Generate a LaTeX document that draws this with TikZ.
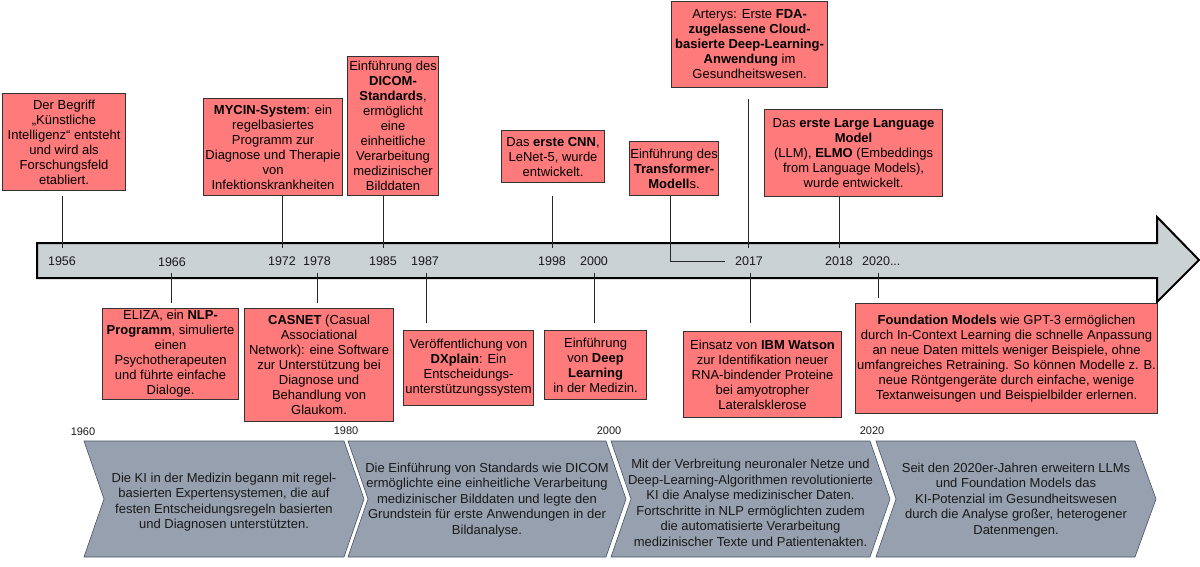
\documentclass[tikz,border=0pt]{standalone}
\usepackage{fontspec}
\setmainfont{Liberation Sans}
\definecolor{boxred}{RGB}{255,122,122}
\definecolor{bargray}{RGB}{203,210,212}
\definecolor{chev}{RGB}{151,160,175}
\definecolor{chevline}{RGB}{70,85,105}
\tikzset{
 evbox/.style={draw=black!80, line width=1.1pt, fill=boxred, inner sep=0pt, align=center, anchor=north west, font=\fontsize{13}{15}\selectfont, text=black},
 yr/.style={font=\fontsize{12.5}{14}\selectfont, inner sep=0pt, text=black!90},
 era/.style={font=\fontsize{11}{13}\selectfont, inner sep=0pt, text=black!90},
 tick/.style={line width=0.9pt, draw=black!85},
 chevbox/.style={fill=chev, draw=chevline, line width=0.6pt},
 chevtext/.style={align=center, font=\fontsize{13}{15.5}\selectfont, inner sep=0pt, text=black!90}
}
\begin{document}
\begin{tikzpicture}[x=1pt,y=-1pt]
\useasboundingbox (0,0) rectangle (1200,567);
% main arrow
\draw[fill=bargray, line width=2pt, line join=miter] (37,243) -- (1157,243) -- (1157,217) -- (1199,260) -- (1157,302) -- (1157,278) -- (37,278) -- cycle;
% year labels
\node[yr] (y1956) at (62,261) {1956};
\node[yr] (y1966) at (172,262) {1966};
\node[yr] (y1972) at (282,261) {1972};
\node[yr] (y1978) at (317,261) {1978};
\node[yr] (y1985) at (383,261) {1985};
\node[yr] (y1987) at (425,261) {1987};
\node[yr] (y1998) at (552,261) {1998};
\node[yr] (y2000) at (594,261) {2000};
\node[yr] (y2017) at (749,261) {2017};
\node[yr] (y2018) at (839,261) {2018};
\node[yr, anchor=west] (y2020) at (862,261) {2020...};
% tick end coordinates
\coordinate (k1956) at (62,248);
\coordinate (k1972) at (282,248);
\coordinate (k1985) at (383,248);
\coordinate (k1998) at (552,248);
\coordinate (kTr) at (670,261);
\coordinate (kTrEnd) at (725,261);
\coordinate (k2017t) at (748,248);
\coordinate (k2018) at (839,248);
\coordinate (k1966) at (171,273);
\coordinate (k1978) at (317,273);
\coordinate (k1987) at (426,273);
\coordinate (k2000) at (594,273);
\coordinate (k2017) at (750,273);
\coordinate (k2020) at (878,273);
% top boxes
\node[evbox, minimum width=123pt, minimum height=97pt] (b1956) at (2,93) {Der Begriff\\„Künstliche\\Intelligenz“ entsteht\\und wird als\\Forschungsfeld\\etabliert.};
\node[evbox, minimum width=139pt, minimum height=97pt] (b1972) at (203,98) {\textbf{MYCIN-System}: ein\\regelbasiertes\\Programm zur\\Diagnose und Therapie\\von\\Infektionskrankheiten};
\node[evbox, minimum width=91pt, minimum height=139pt] (b1985) at (347,56) {Einführung des\\\textbf{DICOM-}\\\textbf{Standards},\\ermöglicht\\eine\\einheitliche\\Verarbeitung\\medizinischer\\Bilddaten};
\node[evbox, minimum width=103pt, minimum height=52pt] (b1998) at (501,130) {Das \textbf{erste CNN},\\LeNet-5, wurde\\entwickelt.};
\node[evbox, minimum width=89pt, minimum height=54pt] (bTr) at (629,141) {Einführung des\\\textbf{Transformer-}\\\textbf{Modell}s.};
\node[evbox, minimum width=156pt, minimum height=86pt] (bArt) at (671,1) {Arterys: Erste \textbf{FDA-}\\\textbf{zugelassene Cloud-}\\\textbf{basierte Deep-Learning-}\\\textbf{Anwendung} im\\Gesundheitswesen.};
\node[evbox, minimum width=178pt, minimum height=87pt] (b2018) at (764,109) {Das \textbf{erste Large Language}\\\textbf{Model}\\(LLM), \textbf{ELMO} (Embeddings\\from Language Models),\\wurde entwickelt.};
% bottom boxes
\node[evbox, minimum width=136pt, minimum height=91pt] (b1966) at (102,308) {ELIZA, ein \textbf{NLP-}\\\textbf{Programm}, simulierte\\einen\\Psychotherapeuten\\und führte einfache\\Dialoge.};
\node[evbox, minimum width=149pt, minimum height=113pt] (b1978) at (244,308) {\textbf{CASNET} (Casual\\Associational\\Network): eine Software\\zur Unterstützung bei\\Diagnose und\\Behandlung von\\Glaukom.};
\node[evbox, minimum width=130pt, minimum height=75pt] (b1987) at (403,330) {Veröffentlichung von\\\textbf{DXplain}: Ein\\Entscheidungs-\\unterstützungssystem};
\node[evbox, minimum width=102pt, minimum height=69pt] (b2000) at (544,330) {Einführung\\von \textbf{Deep}\\\textbf{Learning}\\in der Medizin.};
\node[evbox, minimum width=158pt, minimum height=86pt] (b2017) at (683,331) {Einsatz von \textbf{IBM Watson}\\zur Identifikation neuer\\RNA-bindender Proteine\\bei amyotropher\\Lateralsklerose};
\node[evbox, minimum width=302pt, minimum height=110pt] (b2020) at (855,303) {\textbf{Foundation Models} wie GPT-3 ermöglichen\\durch In-Context Learning die schnelle Anpassung\\an neue Daten mittels weniger Beispiele, ohne\\umfangreiches Retraining. So können Modelle z. B.\\neue Röntgengeräte durch einfache, wenige\\Textanweisungen und Beispielbilder erlernen.};
% connectors top
\draw[tick, shorten <=5pt] (b1956.south -| k1956) -- (k1956);
\draw[tick] (b1972.south -| k1972) -- (k1972);
\draw[tick] (b1985.south -| k1985) -- (k1985);
\draw[tick, shorten <=13pt] (b1998.south -| k1998) -- (k1998);
\draw[tick] (bTr.south -| kTr) -- (kTr) -- (kTrEnd);
\draw[tick, shorten <=11pt] (bArt.south -| k2017t) -- (k2017t);
\draw[tick] (b2018.south -| k2018) -- (k2018);
% connectors bottom
\draw[tick, shorten >=5pt] (k1966) -- (b1966.north -| k1966);
\draw[tick, shorten >=5pt] (k1978) -- (b1978.north -| k1978);
\draw[tick, shorten >=7pt] (k1987) -- (b1987.north -| k1987);
\draw[tick, shorten >=7pt] (k2000) -- (b2000.north -| k2000);
\draw[tick, shorten >=8pt] (k2017) -- (b2017.north -| k2017);
\draw[tick, shorten >=5pt] (k2020) -- (b2020.north -| k2020);
% era chevrons
\draw[chevbox] (84,441) -- (344,441) -- (364,499) -- (344,557) -- (84,557) -- (104,499) -- cycle;
\draw[chevbox] (348,441) -- (606,441) -- (626,499) -- (606,557) -- (348,557) -- (368,499) -- cycle;
\draw[chevbox] (611,441) -- (870,441) -- (890,499) -- (870,557) -- (611,557) -- (631,499) -- cycle;
\draw[chevbox] (876,441) -- (1135,441) -- (1156,499) -- (1135,557) -- (876,557) -- (896,499) -- cycle;
\node[era] (e1960) at (83,432) {1960};
\node[era] (e1980) at (346,431) {1980};
\node[era] (e2000) at (609,431) {2000};
\node[era] (e2020) at (872,431) {2020};
\node[chevtext] (c1) at (224,502) {Die KI in der Medizin begann mit regel-\\basierten Expertensystemen, die auf\\festen Entscheidungsregeln basierten\\und Diagnosen unterstützten.};
\node[chevtext] (c2) at (487,500) {Die Einführung von Standards wie DICOM\\ermöglichte eine einheitliche Verarbeitung\\medizinischer Bilddaten und legte den\\Grundstein für erste Anwendungen in der\\Bildanalyse.};
\node[chevtext] (c3) at (750.5,503) {Mit der Verbreitung neuronaler Netze und\\Deep-Learning-Algorithmen revolutionierte\\KI die Analyse medizinischer Daten.\\Fortschritte in NLP ermöglichten zudem\\die automatisierte Verarbeitung\\medizinischer Texte und Patientenakten.};
\node[chevtext] (c4) at (1016,500) {Seit den 2020er-Jahren erweitern LLMs\\und Foundation Models das\\KI-Potenzial im Gesundheitswesen\\durch die Analyse großer, heterogener\\Datenmengen.};
\end{tikzpicture}
\end{document}
